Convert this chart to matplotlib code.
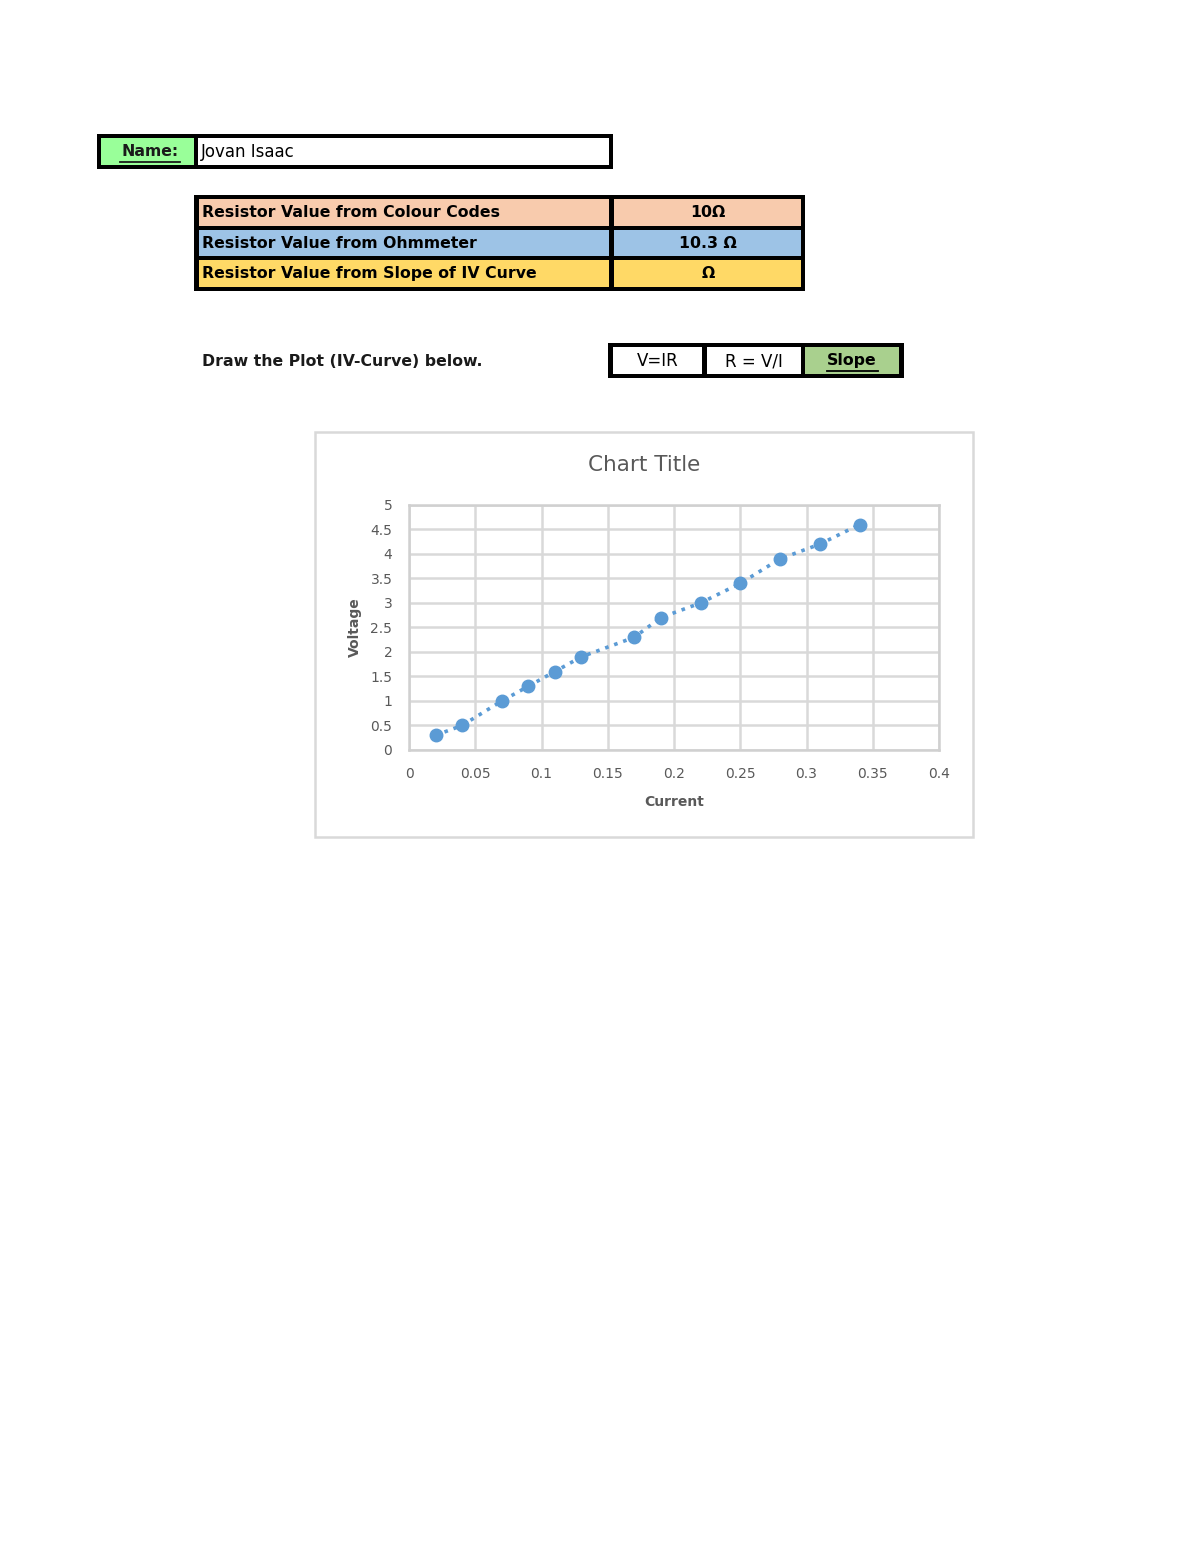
import matplotlib
matplotlib.use("Agg")
import matplotlib.pyplot as plt
from matplotlib.patches import Rectangle

plt.rcParams['font.family'] = ['DejaVu Sans']

# ---- data ----
current = [0.02, 0.04, 0.07, 0.09, 0.11, 0.13, 0.17, 0.19, 0.22, 0.25, 0.28, 0.31, 0.34]
voltage = [0.3, 0.5, 1.0, 1.3, 1.6, 1.9, 2.3, 2.7, 3.0, 3.4, 3.9, 4.2, 4.6]
x_ticks = [0, 0.05, 0.1, 0.15, 0.2, 0.25, 0.3, 0.35, 0.4]
x_tick_labels = ["0", "0.05", "0.1", "0.15", "0.2", "0.25", "0.3", "0.35", "0.4"]
y_ticks = [0, 0.5, 1, 1.5, 2, 2.5, 3, 3.5, 4, 4.5, 5]
y_tick_labels = ["0", "0.5", "1", "1.5", "2", "2.5", "3", "3.5", "4", "4.5", "5"]
name_label = "Name:"
student_name = "Jovan Isaac"
row_labels = ["Resistor Value from Colour Codes", "Resistor Value from Ohmmeter",
              "Resistor Value from Slope of IV Curve"]
row_values = ["10\u03a9", "10.3 \u03a9", "\u03a9"]
button_labels = ["V=IR", "R = V/I", "Slope"]
instruction = "Draw the Plot (IV-Curve) below."
chart_title = "Chart Title"
x_label = "Current"
y_label = "Voltage"

W, H = 1200, 1553
fig = plt.figure(figsize=(W / 100, H / 100), dpi=100)
fig.patch.set_facecolor('white')

ov = fig.add_axes([0, 0, 1, 1])
ov.set_xlim(0, W)
ov.set_ylim(H, 0)
ov.axis('off')


def rect(x0, y0, x1, y1, fc, ec='none', lw=0, z=1):
    ov.add_patch(Rectangle((x0, y0), x1 - x0, y1 - y0, facecolor=fc,
                           edgecolor=ec, linewidth=lw, zorder=z))


TXT = 11.35
TXT_REG = 12.0
# Name box
rect(97, 134, 613, 169, 'black')
rect(101, 138, 194, 165, '#99FF99', z=2)
rect(198, 138, 609, 165, 'white', z=2)
ov.text(150, 152, name_label, ha='center', va='center', fontsize=TXT,
        fontweight='bold', color='#1a1a1a', zorder=3)
ov.plot([120, 180], [161.5, 161.5], color='#1a1a1a', lw=1.3, zorder=3)
ov.text(201, 152, student_name, ha='left', va='center', fontsize=TXT_REG,
        color='black', zorder=3)

# Resistor table
rect(194, 195, 805, 291, 'black')
row_y = [(199, 226), (230, 256), (260, 287)]
row_colors = ['#F8CBAD', '#9DC3E6', '#FFD966']
for (y0, y1), c, lab, val in zip(row_y, row_colors, row_labels, row_values):
    rect(199, y0, 609, y1, c, z=2)
    rect(614, y0, 801, y1, c, z=2)
    yc = (y0 + y1) / 2
    ov.text(202, yc, lab, ha='left', va='center', fontsize=TXT,
            fontweight='bold', color='black', zorder=3)
    ov.text(708, yc, val, ha='center', va='center', fontsize=TXT,
            fontweight='bold', color='black', zorder=3)

# Instruction
ov.text(202, 361, instruction, ha='left', va='center', fontsize=TXT,
        fontweight='bold', color='#1a1a1a', zorder=3)

# Buttons
rect(608, 343, 904, 378, 'black')
btn_x = [(613, 702), (707, 801), (805, 899)]
btn_colors = ['white', 'white', '#A9D08E']
for i, ((x0, x1), c, lab) in enumerate(zip(btn_x, btn_colors, button_labels)):
    rect(x0, 347, x1, 374, c, z=2)
    ov.text((x0 + x1) / 2, 361, lab, ha='center', va='center',
            fontsize=TXT if i == 2 else TXT_REG,
            fontweight='bold' if i == 2 else 'normal', color='black', zorder=3)
ov.plot([827, 878], [370.5, 370.5], color='black', lw=1.3, zorder=3)

# Chart frame
rect(315, 432, 973, 837, 'white', ec='#D9D9D9', lw=1.8, z=1)
ov.text(644, 465, chart_title, ha='center', va='center', fontsize=15.5,
        color='#595959', zorder=3)

# Chart axes
ax = fig.add_axes([409 / W, 1 - 750 / H, (939 - 409) / W, (750 - 505) / H])
ax.set_facecolor('white')
ax.set_xlim(0, 0.4)
ax.set_ylim(0, 5)
ax.set_xticks(x_ticks)
ax.set_xticklabels(x_tick_labels)
ax.set_yticks(y_ticks)
ax.set_yticklabels(y_tick_labels)
ax.grid(True, color='#D9D9D9', linewidth=1.8)
ax.set_axisbelow(True)
for s in ax.spines.values():
    s.set_color('#D0D0D0')
    s.set_linewidth(1.8)
ax.tick_params(axis='x', length=0, labelsize=10, colors='#595959', pad=12)
ax.tick_params(axis='y', length=0, labelsize=10, colors='#595959', pad=12)
ax.plot(current, voltage, linestyle=':', color='#5B9BD5', linewidth=2.6,
        marker='o', markersize=9, markerfacecolor='#5B9BD5',
        markeredgecolor='#5B9BD5', zorder=3, clip_on=False)
ax.set_xlabel(x_label, fontsize=10, fontweight='bold', color='#595959', labelpad=10)
ax.set_ylabel(y_label, fontsize=10, fontweight='bold', color='#595959', labelpad=6)

fig.savefig('out.png', dpi=100, facecolor='white')
